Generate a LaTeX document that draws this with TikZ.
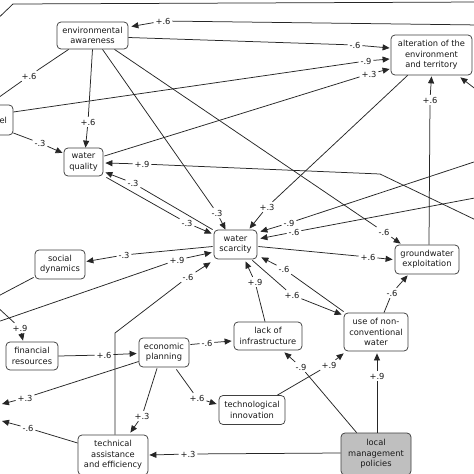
\documentclass[tikz,border=0pt]{standalone}
\usepackage{fontspec}
\setmainfont{DejaVu Sans}
\usetikzlibrary{arrows.meta,calc}
\newcommand\myfs{\fontsize{8.3}{10.3}\selectfont}
\begin{document}
\begin{tikzpicture}[x=1pt,y=-1pt,
  box/.style={draw=black!75, line width=0.75pt, rounded corners=4pt, align=center, inner sep=1pt, font=\myfs, text=black!90},
  lab/.style={inner sep=1.8pt, font=\myfs, text=black!90},
  arr/.style={draw=black!85, line width=0.75pt, -{Triangle[length=7pt,width=6pt]}},
  ln/.style={draw=black!85, line width=0.75pt}]
\useasboundingbox (0,0) rectangle (474,474);
\clip (0,0) rectangle (474,474);
\fill[white] (0,0) rectangle (474,474);
% concepts
\node[box, minimum width=71pt, minimum height=27pt] (env) at (92.5,35.5) {environmental\\awareness};
\node[box, minimum width=81pt, minimum height=40pt] (alt) at (431.5,55) {alteration of the\\environment\\and territory};
\node[box, minimum width=40pt, minimum height=30pt, text width=28pt, align=right, inner xsep=6pt] (el) at (-7,120) {el};
\node[box, minimum width=39pt, minimum height=28pt] (wq) at (83.5,162) {water\\quality};
\node[box, minimum width=43pt, minimum height=29pt] (ws) at (235.5,244.5) {water\\scarcity};
\node[box, minimum width=50pt, minimum height=29pt] (sd) at (60,264.5) {social\\dynamics};
\node[box, minimum width=64pt, minimum height=29pt] (gw) at (427,259.5) {groundwater\\exploitation};
\node[box, minimum width=52pt, minimum height=28pt] (fr) at (32,356) {financial\\resources};
\node[box, minimum width=50pt, minimum height=29pt] (ep) at (164,352.5) {economic\\planning};
\node[box, minimum width=68pt, minimum height=28pt] (li) at (268,336) {lack of\\infrastructure};
\node[box, minimum width=64pt, minimum height=38pt] (use) at (376,332) {use of non-\\conventional\\water};
\node[box, minimum width=66pt, minimum height=29pt] (ti) at (252,410) {technological\\innovation};
\node[box, minimum width=70pt, minimum height=40pt] (ta) at (113,455) {technical\\assistance\\and efficiency};
\node[box, fill=black!25, minimum width=70pt, minimum height=42pt] (lm) at (376,454) {local\\management\\policies};
% off-canvas ends
\coordinate (R1) at (480,25);
\coordinate (R2) at (482,94);
\coordinate (R3) at (480,222);
\coordinate (B3) at (380,174);
\coordinate (R4) at (480,160);
\coordinate (R5) at (480,197);
\coordinate (L1) at (-20,328);
\coordinate (L2) at (-12,105);
\coordinate (L3) at (2,404);
\coordinate (L4) at (2,421);
\coordinate (L5) at (-6,304);
\coordinate (L6) at (-15,303);
\coordinate (T1) at (-10,26);
\coordinate (T2) at (13,4);
\coordinate (T3) at (480,2);
\coordinate (K1) at (115,333);
% link labels
\node[lab] (a1) at (88,122) {+.6};
\node[lab] (a2) at (217,213) {-.3};
\node[lab] (a3) at (384,232) {-.6};
\node[lab] (a4) at (355,45) {-.6};
\node[lab] (a5) at (163,21) {+.6};
\node[lab] (a6) at (366,61) {-.9};
\node[lab] (a7) at (40,143) {-.3};
\node[lab] (a8) at (29,76) {+.6};
\node[lab] (a9) at (369,74) {+.3};
\node[lab] (a10) at (267,207) {+.3};
\node[lab] (a11) at (430,100) {+.6};
\node[lab] (a13) at (142,164) {+.9};
\node[lab] (a14) at (133,183) {-.3};
\node[lab] (a15) at (187,223) {-.3};
\node[lab] (a16) at (124,255) {-.3};
\node[lab] (a17) at (177,260) {+.9};
\node[lab] (a18) at (188,277) {-.6};
\node[lab] (a19) at (368,257) {+.6};
\node[lab] (a20) at (289,223) {-.9};
\node[lab] (a21) at (294,232) {-.6};
\node[lab] (a22) at (255,282) {+.9};
\node[lab] (a23) at (284,269) {-.6};
\node[lab] (a24) at (292,295) {+.6};
\node[lab] (a25) at (392,293) {-.6};
\node[lab] (a26) at (329,365) {+.9};
\node[lab] (a27) at (301,367) {-.9};
\node[lab] (a28) at (377,376) {+.9};
\node[lab] (a29) at (188,454) {+.3};
\node[lab] (a30) at (104,355) {+.6};
\node[lab] (a31) at (207,343) {-.6};
\node[lab] (a32) at (197,398) {+.6};
\node[lab] (a33) at (142,416) {+.3};
\node[lab] (a34) at (25,398) {+.3};
\node[lab] (a35) at (28,428) {-.6};
\node[lab] (a36) at (20,328) {+.9};
% connectors
\draw[ln] (T1) -- (T2) -- (T3);
\draw[arr] (env.south) -- (a1) -- ($(wq.north)+(2,0)$);
\draw[arr] ($(env.south)+(10,0)$) -- (a2) -- ($(ws.north)+(-10,0)$);
\draw[arr] ($(env.south)+(22,0)$) -- (a3) -- ($(gw.north west)+(6,-1)$);
\draw[arr] ($(env.east)+(0,2)$) -- (a4) -- ($(alt.west)+(-1,-7)$);
\draw[arr] (R1) -- (a5) -- ($(env.east)+(3,-9)$);
\draw[arr] ($(el.east)+(0,-8)$) -- (a6) -- ($(alt.west)+(-1,4)$);
\draw[arr] ($(el.east)+(0,13)$) -- (a7) -- ($(wq.west)+(-1,-9)$);
\draw[arr] ($(env.south west)+(12,0)$) -- (a8) -- (L2);
\draw[arr] ($(wq.east)+(1,-6)$) -- (a9) -- ($(alt.west)+(-1,14)$);
\draw[arr] ($(alt.south west)+(17,0)$) -- (a10) -- ($(ws.north)+(14,-1)$);
\draw[arr] ($(gw.north)+(2,0)$) -- (a11) -- ($(alt.south)+(0,1)$);
\draw[arr] (R2) -- ($(alt.south east)+(-12,2)$);
\draw[arr] (R3) -- (B3) -- (a13) -- ($(wq.east)+(2,1)$);
\draw[arr] ($(ws.north west)+(-1,0)$) -- (a14) -- ($(wq.south east)+(2,-4)$);
\draw[arr] ($(wq.south east)+(3,1)$) -- (a15) -- ($(ws.west)+(-2,-11)$);
\draw[arr] ($(ws.west)+(-1,2)$) -- (a16) -- ($(sd.east)+(1,-3)$);
\draw[arr] (L1) -- (a17) -- ($(ws.west)+(-2,8)$);
\draw[arr] ($(ta.north)+(2,0)$) -- (K1) -- (a18) -- ($(ws.south west)+(-3,3)$);
\draw[arr] ($(ws.east)+(1,2)$) -- (a19) -- ($(gw.west)+(-2,0)$);
\draw[arr] (R4) -- (a20) -- ($(ws.north east)+(3,2)$);
\draw[arr] (R5) -- (a21) -- ($(ws.east)+(3,-6)$);
\draw[arr] ($(li.north)+(-3,0)$) -- (a22) -- ($(ws.south)+(10,2)$);
\draw[arr] ($(use.north west)+(0,-1)$) -- (a23) -- ($(ws.south east)+(4,-2)$);
\draw[arr] ($(ws.south east)+(-5,1)$) -- (a24) -- ($(use.north west)+(-2,2)$);
\draw[arr] ($(use.north)+(8,0)$) -- (a25) -- ($(gw.south west)+(13,1)$);
\draw[arr] ($(ti.north east)+(-8,0)$) -- (a26) -- ($(use.south west)+(0,2)$);
\draw[arr] ($(lm.north west)+(16,0)$) -- (a27) -- ($(li.south east)+(-18,2)$);
\draw[arr] ($(lm.north)+(1,0)$) -- (a28) -- ($(use.south)+(1,2)$);
\draw[arr] ($(lm.west)+(0,-1)$) -- (a29) -- ($(ta.east)+(1,0)$);
\draw[arr] (fr.east) -- (a30) -- ($(ep.west)+(-2,1)$);
\draw[arr] ($(ep.east)+(1,-8)$) -- (a31) -- ($(li.west)+(-2,5)$);
\draw[arr] ($(ep.south east)+(-13,2)$) -- (a32) -- ($(ti.west)+(-2,-6)$);
\draw[arr] ($(ep.south)+(-7,1)$) -- (a33) -- ($(ta.north east)+(-18,-2)$);
\draw[arr] ($(ep.west)+(0,9)$) -- (a34) -- (L3);
\draw[arr] ($(ta.west)+(0,-12)$) -- (a35) -- (L4);
\draw[arr] (L5) -- (a36) -- ($(fr.north)+(-9,-1)$);
\draw[arr] ($(sd.south west)+(-1,-2)$) -- (L6);
\end{tikzpicture}
\end{document}
